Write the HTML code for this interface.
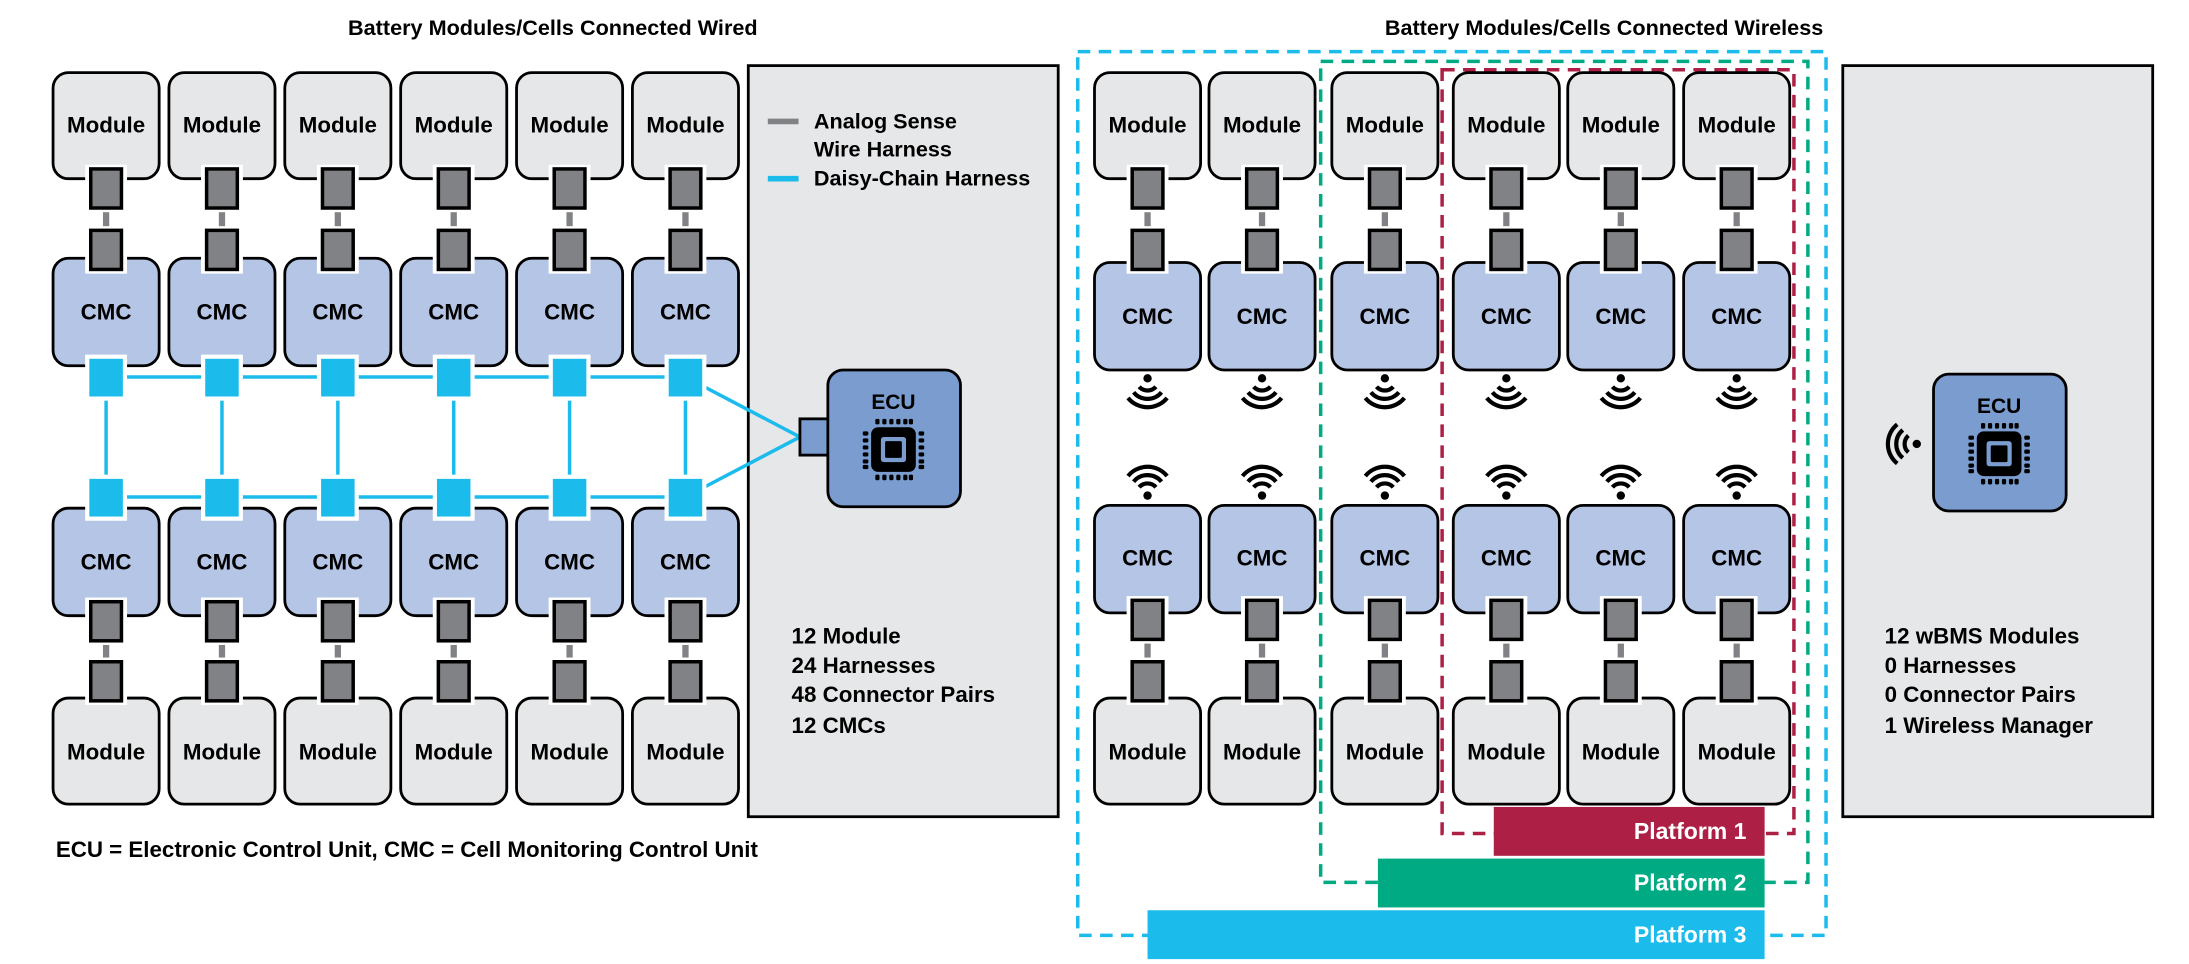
<!DOCTYPE html>
<html><head><meta charset="utf-8"><style>
html,body{margin:0;padding:0;background:#fff;}
svg{display:block;}
text{font-family:"Liberation Sans",sans-serif;font-weight:bold;fill:#000;}
text.w{fill:#fff;}
</style></head><body>
<svg width="2189" height="964" viewBox="0 0 1568 690.5" preserveAspectRatio="none" xmlns="http://www.w3.org/2000/svg">
<defs>
<g id="mod"><rect x="-38" y="0" width="76" height="76" rx="11" fill="#e6e7e8" stroke="#000" stroke-width="2"/></g>
<g id="cmc"><rect x="-38" y="0" width="76" height="77" rx="11" fill="#b4c5e6" stroke="#000" stroke-width="2"/></g>
<g id="conn"><rect x="-15" y="-3" width="30" height="34" fill="#fff"/><rect x="-11" y="0" width="22" height="28" fill="#808285" stroke="#000" stroke-width="2.5"/></g>
<g id="bsq"><rect x="-15" y="-3" width="30" height="33" fill="#fff"/><rect x="-12" y="0" width="24" height="27" fill="#1bbbec"/></g>
<g id="stub"><line x1="0" y1="0" x2="0" y2="18" stroke="#808285" stroke-width="4.5"/></g>
<g id="wdown" fill="none" stroke="#000" stroke-width="3"><circle cx="0" cy="0" r="3" fill="#000" stroke="none"/><path d="M-6 6 A8 8 0 0 0 6 6"/><path d="M-10 10 A13 13 0 0 0 10 10"/><path d="M-14 14 A18 18 0 0 0 14 14"/></g>
<g id="wup" fill="none" stroke="#000" stroke-width="3"><circle cx="0" cy="0" r="3" fill="#000" stroke="none"/><path d="M-6 -6 A8 8 0 0 1 6 -6"/><path d="M-10 -10 A13 13 0 0 1 10 -10"/><path d="M-14 -14 A18 18 0 0 1 14 -14"/></g>
<g id="chip">
<rect x="-16" y="-16" width="32" height="32" rx="5" fill="#000"/>
<rect x="-9" y="-9" width="18" height="18" rx="2" fill="#7a9ccf"/>
<rect x="-6" y="-6" width="12" height="12" rx="1" fill="#000"/>
<g fill="#000">
<rect x="-13" y="-22" width="3" height="4" rx="1"/><rect x="-8" y="-22" width="3" height="4" rx="1"/><rect x="-3" y="-22" width="3" height="4" rx="1"/><rect x="2" y="-22" width="3" height="4" rx="1"/><rect x="7" y="-22" width="3" height="4" rx="1"/><rect x="11" y="-22" width="3" height="4" rx="1"/>
<rect x="-13" y="18" width="3" height="4" rx="1"/><rect x="-8" y="18" width="3" height="4" rx="1"/><rect x="-3" y="18" width="3" height="4" rx="1"/><rect x="2" y="18" width="3" height="4" rx="1"/><rect x="7" y="18" width="3" height="4" rx="1"/><rect x="11" y="18" width="3" height="4" rx="1"/>
<rect x="-22" y="-13" width="4" height="3" rx="1"/><rect x="-22" y="-8" width="4" height="3" rx="1"/><rect x="-22" y="-3" width="4" height="3" rx="1"/><rect x="-22" y="2" width="4" height="3" rx="1"/><rect x="-22" y="7" width="4" height="3" rx="1"/><rect x="-22" y="11" width="4" height="3" rx="1"/>
<rect x="18" y="-13" width="4" height="3" rx="1"/><rect x="18" y="-8" width="4" height="3" rx="1"/><rect x="18" y="-3" width="4" height="3" rx="1"/><rect x="18" y="2" width="4" height="3" rx="1"/><rect x="18" y="7" width="4" height="3" rx="1"/><rect x="18" y="11" width="4" height="3" rx="1"/>
</g></g>
<g id="wcol">
<use href="#mod" y="52"/><use href="#cmc" y="188"/>
<use href="#stub" y="148"/><use href="#conn" y="121"/><use href="#conn" y="165"/>
<use href="#wdown" y="271"/><use href="#wup" y="355"/>
<use href="#cmc" y="362"/><use href="#mod" y="500"/>
<use href="#stub" y="456"/><use href="#conn" y="430"/><use href="#conn" y="474"/>
</g>
<g id="lcol">
<use href="#mod" y="52"/><use href="#cmc" y="185"/>
<use href="#stub" y="148"/><use href="#conn" y="121"/><use href="#conn" y="165"/>
<line x1="0" y1="280" x2="0" y2="345" stroke="#1bbbec" stroke-width="2.5"/>
<use href="#cmc" y="364"/><use href="#mod" y="500"/>
<use href="#bsq" y="257"/><use href="#bsq" y="343"/>
<use href="#stub" y="456"/><use href="#conn" y="431"/><use href="#conn" y="474"/>
</g>
</defs>

<text x="396" y="25" font-size="15.5" text-anchor="middle">Battery Modules/Cells Connected Wired</text>
<text x="1149" y="25" font-size="15.5" text-anchor="middle">Battery Modules/Cells Connected Wireless</text>

<rect x="536" y="47" width="222" height="538" fill="#e6e7e8" stroke="#000" stroke-width="2"/>
<line x1="550" y1="87" x2="572" y2="87" stroke="#808285" stroke-width="4"/>
<line x1="550" y1="128" x2="572" y2="128" stroke="#1bbbec" stroke-width="4"/>
<text x="583" y="92" font-size="15.5">Analog Sense</text>
<text x="583" y="112" font-size="15.5">Wire Harness</text>
<text x="583" y="133" font-size="15.5">Daisy-Chain Harness</text>
<text x="567" y="461" font-size="16">12 Module</text>
<text x="567" y="482" font-size="16">24 Harnesses</text>
<text x="567" y="503" font-size="16">48 Connector Pairs</text>
<text x="567" y="525" font-size="16">12 CMCs</text>

<line x1="76" y1="270" x2="491" y2="270" stroke="#1bbbec" stroke-width="2.5"/>
<line x1="76" y1="356" x2="491" y2="356" stroke="#1bbbec" stroke-width="2.5"/>
<polyline points="491,270 573,313 491,356" fill="none" stroke="#1bbbec" stroke-width="2.5"/>
<use href="#lcol" x="76"/><use href="#lcol" x="159"/><use href="#lcol" x="242"/><use href="#lcol" x="325"/><use href="#lcol" x="408"/><use href="#lcol" x="491"/>
<g font-size="16" text-anchor="middle">
<text x="76" y="95">Module</text><text x="159" y="95">Module</text><text x="242" y="95">Module</text><text x="325" y="95">Module</text><text x="408" y="95">Module</text><text x="491" y="95">Module</text>
<text x="76" y="229">CMC</text><text x="159" y="229">CMC</text><text x="242" y="229">CMC</text><text x="325" y="229">CMC</text><text x="408" y="229">CMC</text><text x="491" y="229">CMC</text>
<text x="76" y="408">CMC</text><text x="159" y="408">CMC</text><text x="242" y="408">CMC</text><text x="325" y="408">CMC</text><text x="408" y="408">CMC</text><text x="491" y="408">CMC</text>
<text x="76" y="544">Module</text><text x="159" y="544">Module</text><text x="242" y="544">Module</text><text x="325" y="544">Module</text><text x="408" y="544">Module</text><text x="491" y="544">Module</text>
</g>

<rect x="573" y="300" width="21" height="26" fill="#7a9ccf" stroke="#000" stroke-width="2"/>
<rect x="593" y="265" width="95" height="98" rx="11" fill="#7a9ccf" stroke="#000" stroke-width="2"/>
<text x="640" y="293" font-size="15" text-anchor="middle">ECU</text>
<use href="#chip" x="640" y="322"/>

<text x="40" y="614" font-size="16">ECU = Electronic Control Unit, CMC = Cell Monitoring Control Unit</text>

<rect x="772" y="37" width="536" height="633" fill="none" stroke="#1bbbec" stroke-width="2.5" stroke-dasharray="9,6"/>
<rect x="946" y="44" width="349" height="588" fill="none" stroke="#00ab84" stroke-width="2.5" stroke-dasharray="9,6"/>
<rect x="1033" y="50" width="252" height="547" fill="none" stroke="#ad1f45" stroke-width="2.5" stroke-dasharray="9,6"/>

<use href="#wcol" x="822"/><use href="#wcol" x="904"/><use href="#wcol" x="992"/><use href="#wcol" x="1079"/><use href="#wcol" x="1161"/><use href="#wcol" x="1244"/>
<g font-size="16" text-anchor="middle">
<text x="822" y="95">Module</text><text x="904" y="95">Module</text><text x="992" y="95">Module</text><text x="1079" y="95">Module</text><text x="1161" y="95">Module</text><text x="1244" y="95">Module</text>
<text x="822" y="232">CMC</text><text x="904" y="232">CMC</text><text x="992" y="232">CMC</text><text x="1079" y="232">CMC</text><text x="1161" y="232">CMC</text><text x="1244" y="232">CMC</text>
<text x="822" y="405">CMC</text><text x="904" y="405">CMC</text><text x="992" y="405">CMC</text><text x="1079" y="405">CMC</text><text x="1161" y="405">CMC</text><text x="1244" y="405">CMC</text>
<text x="822" y="544">Module</text><text x="904" y="544">Module</text><text x="992" y="544">Module</text><text x="1079" y="544">Module</text><text x="1161" y="544">Module</text><text x="1244" y="544">Module</text>
</g>

<rect x="1070" y="578" width="194" height="35" fill="#ad1f45"/>
<rect x="987" y="615" width="277" height="35" fill="#00ab84"/>
<rect x="822" y="652" width="442" height="35" fill="#1bbbec"/>
<text class="w" x="1251" y="601" font-size="16.5" text-anchor="end">Platform 1</text>
<text class="w" x="1251" y="638" font-size="16.5" text-anchor="end">Platform 2</text>
<text class="w" x="1251" y="675" font-size="16.5" text-anchor="end">Platform 3</text>

<rect x="1320" y="47" width="222" height="538" fill="#e6e7e8" stroke="#000" stroke-width="2"/>
<rect x="1385" y="268" width="95" height="98" rx="11" fill="#7a9ccf" stroke="#000" stroke-width="2"/>
<text x="1432" y="296" font-size="15" text-anchor="middle">ECU</text>
<use href="#chip" x="1432" y="325"/>
<g fill="none" stroke="#000" stroke-width="3">
<circle cx="1373" cy="318" r="3" fill="#000" stroke="none"/>
<path d="M1367 312 A8 8 0 0 0 1367 324"/>
<path d="M1363 308 A13 13 0 0 0 1363 328"/>
<path d="M1359 304 A18 18 0 0 0 1359 332"/>
</g>
<text x="1350" y="461" font-size="16">12 wBMS Modules</text>
<text x="1350" y="482" font-size="16">0 Harnesses</text>
<text x="1350" y="503" font-size="16">0 Connector Pairs</text>
<text x="1350" y="525" font-size="16">1 Wireless Manager</text>
</svg>
</body></html>
